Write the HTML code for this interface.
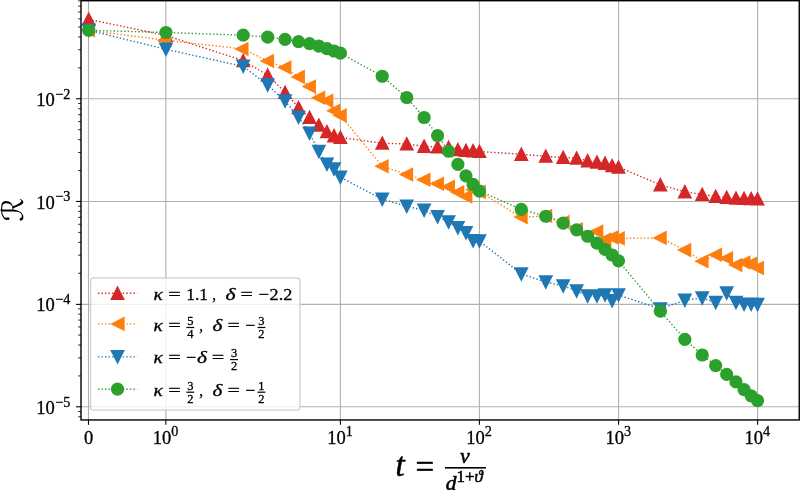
<!DOCTYPE html>
<html lang="en"><head><meta charset="utf-8"><title>R vs t</title>
<style>html,body{margin:0;padding:0;background:#fff}body{width:800px;height:490px;overflow:hidden}svg{display:block}</style>
</head><body>
<svg width="800" height="490" viewBox="0 0 800 490">
<rect width="800" height="490" fill="#fff"/>
<g stroke="#b0b0b0" stroke-width="1.1" fill="none">
<line x1="88.5" y1="0.7" x2="88.5" y2="419.95"/>
<line x1="165.85" y1="0.7" x2="165.85" y2="419.95"/>
<line x1="340.4" y1="0.7" x2="340.4" y2="419.95"/>
<line x1="479.4" y1="0.7" x2="479.4" y2="419.95"/>
<line x1="618.55" y1="0.7" x2="618.55" y2="419.95"/>
<line x1="757.6" y1="0.7" x2="757.6" y2="419.95"/>
<line x1="81.0" y1="98.75" x2="799.25" y2="98.75"/>
<line x1="81.0" y1="201.45" x2="799.25" y2="201.45"/>
<line x1="81.0" y1="304.4" x2="799.25" y2="304.4"/>
<line x1="81.0" y1="406.8" x2="799.25" y2="406.8"/>
</g>
<g class="s1" fill="#d62728">
<polyline points="88.7,19.3 165.95,35.5 243.2,60.6 267.69,75.2 285.06,92.4 298.53,107.7 309.54,117.4 318.85,125.2 326.92,131.7 334.03,135.8 340.39,137.5 382.25,143.2 406.74,144 424.11,146.3 437.58,147 448.59,147.5 457.9,149.6 465.97,150.4 473.08,150.8 479.44,151.5 521.3,154.3 545.79,156.2 563.16,157.5 576.63,158.2 587.64,160.8 596.95,162.1 605.02,163.3 612.13,165.7 618.49,167.1 660.35,184.8 684.84,191.8 702.21,194.4 715.68,196.4 726.69,197.4 736,198.1 744.07,198.4 751.18,198.7 757.54,199" fill="none" stroke="#d62728" stroke-width="1.4" stroke-dasharray="1.4 2.15"/>
<path d="M88.7 11.6L96.05 25.9H81.35ZM165.95 27.8L173.3 42.1H158.6ZM243.2 52.9L250.55 67.2H235.85ZM267.69 67.5L275.04 81.8H260.34ZM285.06 84.7L292.41 99H277.71ZM298.53 100L305.88 114.3H291.18ZM309.54 109.7L316.89 124H302.19ZM318.85 117.5L326.2 131.8H311.5ZM326.92 124L334.27 138.3H319.57ZM334.03 128.1L341.38 142.4H326.68ZM340.39 129.8L347.74 144.1H333.04ZM382.25 135.5L389.6 149.8H374.9ZM406.74 136.3L414.09 150.6H399.39ZM424.11 138.6L431.46 152.9H416.76ZM437.58 139.3L444.93 153.6H430.23ZM448.59 139.8L455.94 154.1H441.24ZM457.9 141.9L465.25 156.2H450.55ZM465.97 142.7L473.32 157H458.62ZM473.08 143.1L480.43 157.4H465.73ZM479.44 143.8L486.79 158.1H472.09ZM521.3 146.6L528.65 160.9H513.95ZM545.79 148.5L553.14 162.8H538.44ZM563.16 149.8L570.51 164.1H555.81ZM576.63 150.5L583.98 164.8H569.28ZM587.64 153.1L594.99 167.4H580.29ZM596.95 154.4L604.3 168.7H589.6ZM605.02 155.6L612.37 169.9H597.67ZM612.13 158L619.48 172.3H604.78ZM618.49 159.4L625.84 173.7H611.14ZM660.35 177.1L667.7 191.4H653ZM684.84 184.1L692.19 198.4H677.49ZM702.21 186.7L709.56 201H694.86ZM715.68 188.7L723.03 203H708.33ZM726.69 189.7L734.04 204H719.34ZM736 190.4L743.35 204.7H728.65ZM744.07 190.7L751.42 205H736.72ZM751.18 191L758.53 205.3H743.83ZM757.54 191.3L764.89 205.6H750.19Z"/>
</g>
<g class="s2" fill="#ff7f0e">
<polyline points="88.7,30.3 165.95,40.3 243.2,49 267.69,61 285.06,67.5 298.53,76.9 309.54,86.5 318.85,97.7 326.92,100.8 334.03,110.8 340.39,115.4 382.25,166.2 406.74,174.5 424.11,179.8 437.58,183.8 448.59,186.7 457.9,192.3 465.97,196.5 473.08,189.8 479.44,191.9 521.3,217.1 545.79,216 563.16,222 576.63,229.2 587.64,235.8 596.95,231.5 605.02,239.6 612.13,237.4 618.49,238.4 660.35,237.9 684.84,250.1 702.21,261.3 715.68,254.8 726.69,258.2 736,265 744.07,262.5 751.18,263.5 757.54,268" fill="none" stroke="#ff7f0e" stroke-width="1.4" stroke-dasharray="1.4 2.15"/>
<path d="M80.7 30.3L95.1 23V37.6ZM156.85 40.3L171.25 33V47.6ZM234.1 49L248.5 41.7V56.3ZM259.69 61L274.09 53.7V68.3ZM277.06 67.5L291.46 60.2V74.8ZM290.53 76.9L304.93 69.6V84.2ZM301.54 86.5L315.94 79.2V93.8ZM310.85 97.7L325.25 90.4V105ZM318.92 100.8L333.32 93.5V108.1ZM326.03 110.8L340.43 103.5V118.1ZM332.39 115.4L346.79 108.1V122.7ZM374.25 166.2L388.65 158.9V173.5ZM398.74 174.5L413.14 167.2V181.8ZM416.11 179.8L430.51 172.5V187.1ZM429.58 183.8L443.98 176.5V191.1ZM440.59 186.7L454.99 179.4V194ZM449.9 192.3L464.3 185V199.6ZM457.97 196.5L472.37 189.2V203.8ZM465.08 189.8L479.48 182.5V197.1ZM471.44 191.9L485.84 184.6V199.2ZM513.3 217.1L527.7 209.8V224.4ZM537.79 216L552.19 208.7V223.3ZM555.16 222L569.56 214.7V229.3ZM568.63 229.2L583.03 221.9V236.5ZM579.64 235.8L594.04 228.5V243.1ZM588.95 231.5L603.35 224.2V238.8ZM597.02 239.6L611.42 232.3V246.9ZM604.13 237.4L618.53 230.1V244.7ZM610.49 238.4L624.89 231.1V245.7ZM652.35 237.9L666.75 230.6V245.2ZM676.84 250.1L691.24 242.8V257.4ZM694.21 261.3L708.61 254V268.6ZM707.68 254.8L722.08 247.5V262.1ZM718.69 258.2L733.09 250.9V265.5ZM728 265L742.4 257.7V272.3ZM736.07 262.5L750.47 255.2V269.8ZM743.18 263.5L757.58 256.2V270.8ZM749.54 268L763.94 260.7V275.3Z"/>
</g>
<g class="s3" fill="#1f77b4">
<polyline points="88.7,30.3 165.95,49.3 243.2,66.4 267.69,85 285.06,101 298.53,117.2 309.54,133.3 318.85,151.5 326.92,164.3 334.03,169 340.39,177.2 382.25,199.3 406.74,206.2 424.11,210.4 437.58,216.7 448.59,222 457.9,227.7 465.97,232.7 473.08,240.8 479.44,241 521.3,274 545.79,282 563.16,286 576.63,291 587.64,296 596.95,296.1 605.02,295 612.13,300.8 618.49,295 660.35,309 684.84,300.2 702.21,298 715.68,302.6 726.69,293 736,302.6 744.07,304.2 751.18,304.2 757.54,304.5" fill="none" stroke="#1f77b4" stroke-width="1.4" stroke-dasharray="1.4 2.15"/>
<path d="M88.7 38L96.05 23.5H81.35ZM165.95 57L173.3 42.5H158.6ZM243.2 74.1L250.55 59.6H235.85ZM267.69 92.7L275.04 78.2H260.34ZM285.06 108.7L292.41 94.2H277.71ZM298.53 124.9L305.88 110.4H291.18ZM309.54 141L316.89 126.5H302.19ZM318.85 159.2L326.2 144.7H311.5ZM326.92 172L334.27 157.5H319.57ZM334.03 176.7L341.38 162.2H326.68ZM340.39 184.9L347.74 170.4H333.04ZM382.25 207L389.6 192.5H374.9ZM406.74 213.9L414.09 199.4H399.39ZM424.11 218.1L431.46 203.6H416.76ZM437.58 224.4L444.93 209.9H430.23ZM448.59 229.7L455.94 215.2H441.24ZM457.9 235.4L465.25 220.9H450.55ZM465.97 240.4L473.32 225.9H458.62ZM473.08 248.5L480.43 234H465.73ZM479.44 248.7L486.79 234.2H472.09ZM521.3 281.7L528.65 267.2H513.95ZM545.79 289.7L553.14 275.2H538.44ZM563.16 293.7L570.51 279.2H555.81ZM576.63 298.7L583.98 284.2H569.28ZM587.64 303.7L594.99 289.2H580.29ZM596.95 303.8L604.3 289.3H589.6ZM605.02 302.7L612.37 288.2H597.67ZM612.13 308.5L619.48 294H604.78ZM618.49 302.7L625.84 288.2H611.14ZM660.35 316.7L667.7 302.2H653ZM684.84 307.9L692.19 293.4H677.49ZM702.21 305.7L709.56 291.2H694.86ZM715.68 310.3L723.03 295.8H708.33ZM726.69 300.7L734.04 286.2H719.34ZM736 310.3L743.35 295.8H728.65ZM744.07 311.9L751.42 297.4H736.72ZM751.18 311.9L758.53 297.4H743.83ZM757.54 312.2L764.89 297.7H750.19Z"/>
</g>
<g class="s4" fill="#2ca02c">
<polyline points="88.7,30.25 165.95,32.5 243.2,35.2 267.69,37.1 285.06,39.3 298.53,41.6 309.54,43.7 318.85,46.1 326.92,48.6 334.03,51 340.39,53.2 382.25,76.25 406.74,97.5 424.11,117.5 437.58,135.6 448.59,151.25 457.9,164.4 465.97,175.8 473.08,184.4 479.44,191.1 521.3,209.4 545.79,216.25 563.16,223.1 576.63,229.8 587.64,236.25 596.95,243.1 605.02,249.4 612.13,255 618.49,260.8 660.35,311.2 684.84,339.3 702.21,355 715.68,365.6 726.69,374.4 736,381.9 744.07,389.6 751.18,395.8 757.54,400.6" fill="none" stroke="#2ca02c" stroke-width="1.4" stroke-dasharray="1.4 2.15"/>
<circle cx="88.7" cy="30.25" r="6.6"/>
<circle cx="165.95" cy="32.5" r="6.6"/>
<circle cx="243.2" cy="35.2" r="6.6"/>
<circle cx="267.69" cy="37.1" r="6.6"/>
<circle cx="285.06" cy="39.3" r="6.6"/>
<circle cx="298.53" cy="41.6" r="6.6"/>
<circle cx="309.54" cy="43.7" r="6.6"/>
<circle cx="318.85" cy="46.1" r="6.6"/>
<circle cx="326.92" cy="48.6" r="6.6"/>
<circle cx="334.03" cy="51" r="6.6"/>
<circle cx="340.39" cy="53.2" r="6.6"/>
<circle cx="382.25" cy="76.25" r="6.6"/>
<circle cx="406.74" cy="97.5" r="6.6"/>
<circle cx="424.11" cy="117.5" r="6.6"/>
<circle cx="437.58" cy="135.6" r="6.6"/>
<circle cx="448.59" cy="151.25" r="6.6"/>
<circle cx="457.9" cy="164.4" r="6.6"/>
<circle cx="465.97" cy="175.8" r="6.6"/>
<circle cx="473.08" cy="184.4" r="6.6"/>
<circle cx="479.44" cy="191.1" r="6.6"/>
<circle cx="521.3" cy="209.4" r="6.6"/>
<circle cx="545.79" cy="216.25" r="6.6"/>
<circle cx="563.16" cy="223.1" r="6.6"/>
<circle cx="576.63" cy="229.8" r="6.6"/>
<circle cx="587.64" cy="236.25" r="6.6"/>
<circle cx="596.95" cy="243.1" r="6.6"/>
<circle cx="605.02" cy="249.4" r="6.6"/>
<circle cx="612.13" cy="255" r="6.6"/>
<circle cx="618.49" cy="260.8" r="6.6"/>
<circle cx="660.35" cy="311.2" r="6.6"/>
<circle cx="684.84" cy="339.3" r="6.6"/>
<circle cx="702.21" cy="355" r="6.6"/>
<circle cx="715.68" cy="365.6" r="6.6"/>
<circle cx="726.69" cy="374.4" r="6.6"/>
<circle cx="736" cy="381.9" r="6.6"/>
<circle cx="744.07" cy="389.6" r="6.6"/>
<circle cx="751.18" cy="395.8" r="6.6"/>
<circle cx="757.54" cy="400.6" r="6.6"/>
</g>
<g stroke="#000" stroke-width="1.1" fill="none">
<rect x="81.0" y="0.7" width="718.25" height="419.25" stroke-width="1.4"/>
<line x1="88.5" y1="419.95" x2="88.5" y2="424.85"/>
<line x1="165.85" y1="419.95" x2="165.85" y2="424.85"/>
<line x1="340.4" y1="419.95" x2="340.4" y2="424.85"/>
<line x1="479.4" y1="419.95" x2="479.4" y2="424.85"/>
<line x1="618.55" y1="419.95" x2="618.55" y2="424.85"/>
<line x1="757.6" y1="419.95" x2="757.6" y2="424.85"/>
<line x1="81.0" y1="98.75" x2="76.1" y2="98.75"/>
<line x1="81.0" y1="201.45" x2="76.1" y2="201.45"/>
<line x1="81.0" y1="304.4" x2="76.1" y2="304.4"/>
<line x1="81.0" y1="406.8" x2="76.1" y2="406.8"/>
</g><g stroke="#000" stroke-width="0.85" fill="none">
<line x1="81.0" y1="416.79" x2="78.2" y2="416.79"/>
<line x1="81.0" y1="411.54" x2="78.2" y2="411.54"/>
<line x1="81.0" y1="375.93" x2="78.2" y2="375.93"/>
<line x1="81.0" y1="357.85" x2="78.2" y2="357.85"/>
<line x1="81.0" y1="345.02" x2="78.2" y2="345.02"/>
<line x1="81.0" y1="335.07" x2="78.2" y2="335.07"/>
<line x1="81.0" y1="326.94" x2="78.2" y2="326.94"/>
<line x1="81.0" y1="320.07" x2="78.2" y2="320.07"/>
<line x1="81.0" y1="314.11" x2="78.2" y2="314.11"/>
<line x1="81.0" y1="308.86" x2="78.2" y2="308.86"/>
<line x1="81.0" y1="273.25" x2="78.2" y2="273.25"/>
<line x1="81.0" y1="255.17" x2="78.2" y2="255.17"/>
<line x1="81.0" y1="242.34" x2="78.2" y2="242.34"/>
<line x1="81.0" y1="232.39" x2="78.2" y2="232.39"/>
<line x1="81.0" y1="224.26" x2="78.2" y2="224.26"/>
<line x1="81.0" y1="217.39" x2="78.2" y2="217.39"/>
<line x1="81.0" y1="211.43" x2="78.2" y2="211.43"/>
<line x1="81.0" y1="206.18" x2="78.2" y2="206.18"/>
<line x1="81.0" y1="170.57" x2="78.2" y2="170.57"/>
<line x1="81.0" y1="152.49" x2="78.2" y2="152.49"/>
<line x1="81.0" y1="139.66" x2="78.2" y2="139.66"/>
<line x1="81.0" y1="129.71" x2="78.2" y2="129.71"/>
<line x1="81.0" y1="121.58" x2="78.2" y2="121.58"/>
<line x1="81.0" y1="114.71" x2="78.2" y2="114.71"/>
<line x1="81.0" y1="108.75" x2="78.2" y2="108.75"/>
<line x1="81.0" y1="103.5" x2="78.2" y2="103.5"/>
<line x1="81.0" y1="67.89" x2="78.2" y2="67.89"/>
<line x1="81.0" y1="49.81" x2="78.2" y2="49.81"/>
<line x1="81.0" y1="36.98" x2="78.2" y2="36.98"/>
<line x1="81.0" y1="27.03" x2="78.2" y2="27.03"/>
<line x1="81.0" y1="18.9" x2="78.2" y2="18.9"/>
<line x1="81.0" y1="12.03" x2="78.2" y2="12.03"/>
<line x1="81.0" y1="6.07" x2="78.2" y2="6.07"/>
<line x1="81.0" y1="0.82" x2="78.2" y2="0.82"/>
</g>
<g font-family="'Liberation Serif',serif" font-size="18.5" fill="#000" stroke="#000" stroke-width="0.3">
<text x="88.7" y="443.8" text-anchor="middle">0</text>
<text x="152.85" y="443.8">10<tspan dy="-7.6" font-size="14.2">0</tspan></text>
<text x="327.29" y="443.8">10<tspan dy="-7.6" font-size="14.2">1</tspan></text>
<text x="466.34" y="443.8">10<tspan dy="-7.6" font-size="14.2">2</tspan></text>
<text x="605.39" y="443.8">10<tspan dy="-7.6" font-size="14.2">3</tspan></text>
<text x="744.44" y="443.8">10<tspan dy="-7.6" font-size="14.2">4</tspan></text>
<text x="36.2" y="106.1">10<tspan dy="-7.6" dx="0.6" font-size="14.2">−2</tspan></text>
<text x="36.2" y="208.78">10<tspan dy="-7.6" dx="0.6" font-size="14.2">−3</tspan></text>
<text x="36.2" y="311.46">10<tspan dy="-7.6" dx="0.6" font-size="14.2">−4</tspan></text>
<text x="36.2" y="414.14">10<tspan dy="-7.6" dx="0.6" font-size="14.2">−5</tspan></text>
</g>
<text transform="translate(23.3 209.8) rotate(-90)" text-anchor="middle" font-family="'DejaVu Sans',sans-serif" font-size="29.6" fill="#000">ℛ</text>
<g font-family="'Liberation Serif',serif" fill="#000" font-style="italic" stroke="#000" stroke-width="0.55">
<text x="395.5" y="476" font-size="33">t</text>
<text x="415.5" y="477.9" font-size="33" font-style="normal">=</text>
<rect x="445" y="467" width="41" height="1.6" stroke="none"/>
<text x="464.8" y="463.4" font-size="22" text-anchor="middle">ν</text>
<text x="445.8" y="489.6" font-size="21.5">d<tspan dy="-8" font-size="16.8" font-style="normal">1+</tspan><tspan font-size="16.8">ϑ</tspan></text>
</g>
<rect x="90.6" y="278.05" width="209.4" height="132.05" rx="3.3" fill="#fff" fill-opacity="0.8" stroke="#ccc" stroke-opacity="0.8" stroke-width="1.5"/>
<line x1="97.9" y1="293.3" x2="137.2" y2="293.3" stroke="#d62728" stroke-width="1.4" stroke-dasharray="1.4 2.15"/><path d="M117.55 285.6L124.9 299.9H110.2Z" fill="#d62728"/>
<line x1="97.9" y1="323.9" x2="137.2" y2="323.9" stroke="#ff7f0e" stroke-width="1.4" stroke-dasharray="1.4 2.15"/><path d="M110.25 323.9L124.65 316.6V331.2Z" fill="#ff7f0e"/>
<line x1="97.9" y1="356.9" x2="137.2" y2="356.9" stroke="#1f77b4" stroke-width="1.4" stroke-dasharray="1.4 2.15"/><path d="M117.55 364.6L124.9 350.1H110.2Z" fill="#1f77b4"/>
<line x1="97.9" y1="389.2" x2="137.2" y2="389.2" stroke="#2ca02c" stroke-width="1.4" stroke-dasharray="1.4 2.15"/><circle cx="117.55" cy="389.2" r="6.6" fill="#2ca02c"/>
<g font-family="'Liberation Serif',serif" font-size="17.1" fill="#000" stroke="#000" stroke-width="0.3">
<text x="153.4" y="300.1" textLength="9.3" lengthAdjust="spacingAndGlyphs" font-style="italic">κ</text><text x="168.3" y="300.1" textLength="12.5" lengthAdjust="spacingAndGlyphs">=</text><text x="186.3" y="300.1" textLength="21.7" lengthAdjust="spacingAndGlyphs">1.1</text><text x="212.2" y="300.1" textLength="3.8" lengthAdjust="spacingAndGlyphs">,</text><text x="225.6" y="300.1" textLength="10" lengthAdjust="spacingAndGlyphs" font-style="italic">δ</text><text x="240.6" y="300.1" textLength="12.4" lengthAdjust="spacingAndGlyphs">=</text><text x="258.6" y="300.1" textLength="10.4" lengthAdjust="spacingAndGlyphs">−</text><text x="269.6" y="300.1" textLength="22.8" lengthAdjust="spacingAndGlyphs">2.2</text>
<text x="153.4" y="330.7" textLength="9.3" lengthAdjust="spacingAndGlyphs" font-style="italic">κ</text><text x="168.3" y="330.7" textLength="12.5" lengthAdjust="spacingAndGlyphs">=</text><text x="190.25" y="325.2" font-size="12.5" text-anchor="middle">5</text><rect x="186.3" y="326.9" width="7.9" height="1.2" stroke="none"/><text x="190.25" y="337.9" font-size="12.5" text-anchor="middle">4</text><text x="199.2" y="330.7" textLength="3.8" lengthAdjust="spacingAndGlyphs">,</text><text x="212.5" y="330.7" textLength="9.8" lengthAdjust="spacingAndGlyphs" font-style="italic">δ</text><text x="227.4" y="330.7" textLength="12.4" lengthAdjust="spacingAndGlyphs">=</text><text x="245.2" y="330.7" textLength="10" lengthAdjust="spacingAndGlyphs">−</text><text x="261.45" y="325.2" font-size="12.5" text-anchor="middle">3</text><rect x="257.5" y="326.9" width="7.9" height="1.2" stroke="none"/><text x="261.45" y="337.9" font-size="12.5" text-anchor="middle">2</text>
<text x="153.4" y="363" textLength="9.3" lengthAdjust="spacingAndGlyphs" font-style="italic">κ</text><text x="168.3" y="363" textLength="12.5" lengthAdjust="spacingAndGlyphs">=</text><text x="185.9" y="363" textLength="10.2" lengthAdjust="spacingAndGlyphs">−</text><text x="197" y="363" textLength="9.9" lengthAdjust="spacingAndGlyphs" font-style="italic">δ</text><text x="211.8" y="363" textLength="12.5" lengthAdjust="spacingAndGlyphs">=</text><text x="234.05" y="357.3" font-size="12.5" text-anchor="middle">3</text><rect x="230.1" y="359" width="7.9" height="1.2" stroke="none"/><text x="234.05" y="370" font-size="12.5" text-anchor="middle">2</text>
<text x="153.4" y="395.7" textLength="9.3" lengthAdjust="spacingAndGlyphs" font-style="italic">κ</text><text x="168.3" y="395.7" textLength="12.5" lengthAdjust="spacingAndGlyphs">=</text><text x="190.25" y="389.9" font-size="12.5" text-anchor="middle">3</text><rect x="186.3" y="391.6" width="7.9" height="1.2" stroke="none"/><text x="190.25" y="402.6" font-size="12.5" text-anchor="middle">2</text><text x="199.2" y="395.7" textLength="3.8" lengthAdjust="spacingAndGlyphs">,</text><text x="212.5" y="395.7" textLength="9.8" lengthAdjust="spacingAndGlyphs" font-style="italic">δ</text><text x="227.4" y="395.7" textLength="12.4" lengthAdjust="spacingAndGlyphs">=</text><text x="245.2" y="395.7" textLength="10" lengthAdjust="spacingAndGlyphs">−</text><text x="261.45" y="389.9" font-size="12.5" text-anchor="middle">1</text><rect x="257.5" y="391.6" width="7.9" height="1.2" stroke="none"/><text x="261.45" y="402.6" font-size="12.5" text-anchor="middle">2</text>
</g>
</svg>
</body></html>
